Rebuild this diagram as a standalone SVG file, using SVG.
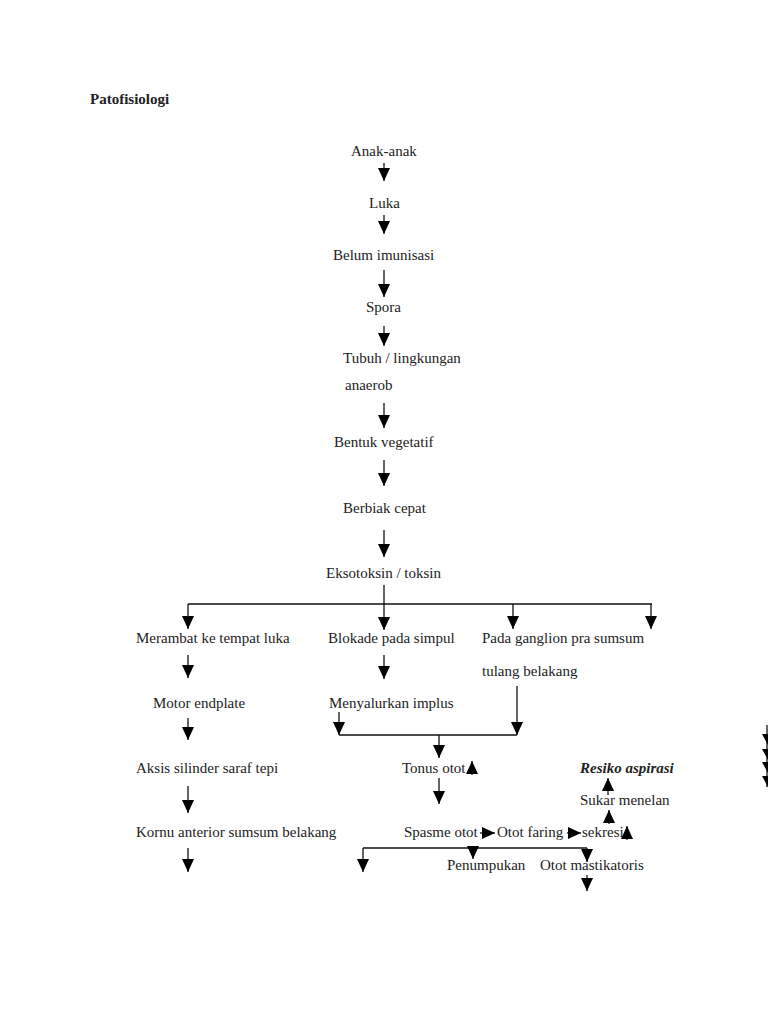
<svg xmlns="http://www.w3.org/2000/svg" width="768" height="1024" viewBox="0 0 768 1024">
<style>
text{font-family:"Liberation Serif","Times New Roman",serif;font-size:15px;fill:#222}
.t{font-weight:bold}
.bi{font-weight:bold;font-style:italic}
.c line,.c path,.c polyline{stroke:#111;stroke-width:1.3;fill:none}
.a{marker-end:url(#ah)}
.h{fill:#000}
</style>
<defs>
<marker id="ah" markerUnits="userSpaceOnUse" markerWidth="13" markerHeight="12" refX="13" refY="6" orient="auto">
<path d="M0,0 L13,6 L0,12 z" fill="#000"/>
</marker>
</defs>
<rect width="768" height="1024" fill="#fff"/>
<text class="t" x="90" y="104">Patofisiologi</text>
<g id="n1"><text x="351" y="156">Anak-anak</text></g>
<g id="n2"><text x="369" y="208">Luka</text></g>
<g id="n3"><text x="333" y="260">Belum imunisasi</text></g>
<g id="n4"><text x="366" y="312">Spora</text></g>
<g id="n5"><text x="343" y="363">Tubuh / lingkungan</text><text x="345" y="390">anaerob</text></g>
<g id="n6"><text x="334" y="447">Bentuk vegetatif</text></g>
<g id="n7"><text x="343" y="513">Berbiak cepat</text></g>
<g id="n8"><text x="326" y="578">Eksotoksin / toksin</text></g>
<g id="n9"><text x="136" y="643">Merambat ke tempat luka</text></g>
<g id="n10"><text x="328" y="643">Blokade pada simpul</text></g>
<g id="n11"><text x="482" y="643">Pada ganglion pra sumsum</text><text x="482" y="676">tulang belakang</text></g>
<g id="n12"><text x="153" y="708">Motor endplate</text></g>
<g id="n13"><text x="329" y="708">Menyalurkan implus</text></g>
<g id="n14"><text x="136" y="773">Aksis silinder saraf tepi</text></g>
<g id="n15"><text x="402" y="773">Tonus otot</text></g>
<g id="n16"><text class="bi" x="580" y="773">Resiko aspirasi</text></g>
<g id="n17"><text x="580" y="805">Sukar menelan</text></g>
<g id="n18"><text x="136" y="837">Kornu anterior sumsum belakang</text></g>
<g id="n19"><text x="404" y="837">Spasme otot</text></g>
<g id="n20"><text x="497" y="837">Otot faring</text></g>
<g id="n21"><text x="582" y="837">sekresi</text></g>
<g id="n22"><text x="447" y="870">Penumpukan</text></g>
<g id="n23"><text x="540" y="870">Otot mastikatoris</text></g>
<g id="connectors" class="c">
<line class="a" x1="384" y1="163" x2="384" y2="181"/>
<line class="a" x1="384" y1="215" x2="384" y2="234"/>
<line class="a" x1="384" y1="270" x2="384" y2="297"/>
<line class="a" x1="384" y1="326" x2="384" y2="346"/>
<line class="a" x1="384" y1="403" x2="384" y2="428"/>
<line class="a" x1="384" y1="460" x2="384" y2="486"/>
<line class="a" x1="384" y1="530" x2="384" y2="557"/>
<line class="a" x1="384" y1="585" x2="384" y2="630"/>
<line x1="188" y1="604" x2="652" y2="604"/>
<line class="a" x1="188" y1="604" x2="188" y2="629"/>
<line class="a" x1="513" y1="604" x2="513" y2="629"/>
<line class="a" x1="651" y1="604" x2="651" y2="629"/>
<line class="a" x1="188" y1="655" x2="188" y2="678"/>
<line class="a" x1="384" y1="655" x2="384" y2="679"/>
<line class="a" x1="188" y1="718" x2="188" y2="740"/>
<line class="a" x1="339" y1="712" x2="339" y2="735"/>
<line class="a" x1="517" y1="686" x2="517" y2="735"/>
<line x1="339" y1="735" x2="517" y2="735"/>
<line class="a" x1="439" y1="735" x2="439" y2="758"/>
<line class="a" x1="472" y1="775" x2="472" y2="761"/>
<line class="a" x1="439" y1="778" x2="439" y2="804"/>
<line class="a" x1="188" y1="786" x2="188" y2="813"/>
<line class="a" x1="608" y1="795" x2="608" y2="778"/>
<line class="a" x1="609" y1="824" x2="609" y2="810"/>
<line class="a" x1="480" y1="833" x2="495" y2="833"/>
<line class="a" x1="567" y1="833" x2="581" y2="833"/>
<line class="a" x1="627" y1="840" x2="627" y2="826"/>
<line x1="363" y1="848" x2="587" y2="848"/>
<line class="a" x1="363" y1="848" x2="363" y2="872"/>
<line class="a" x1="473" y1="847" x2="473" y2="859"/>
<line class="a" x1="587" y1="848" x2="587" y2="862"/>
<line class="a" x1="587" y1="875" x2="587" y2="891"/>
<line class="a" x1="188" y1="848" x2="188" y2="872"/>
<line x1="767" y1="725" x2="767" y2="787"/>
<path class="h" d="M762,734 L774,734 L768,745 z M762,749 L774,749 L768,760 z M762,762 L774,762 L768,773 z M762,776 L774,776 L768,787 z" style="stroke:none;fill:#000"/>
</g>
</svg>
